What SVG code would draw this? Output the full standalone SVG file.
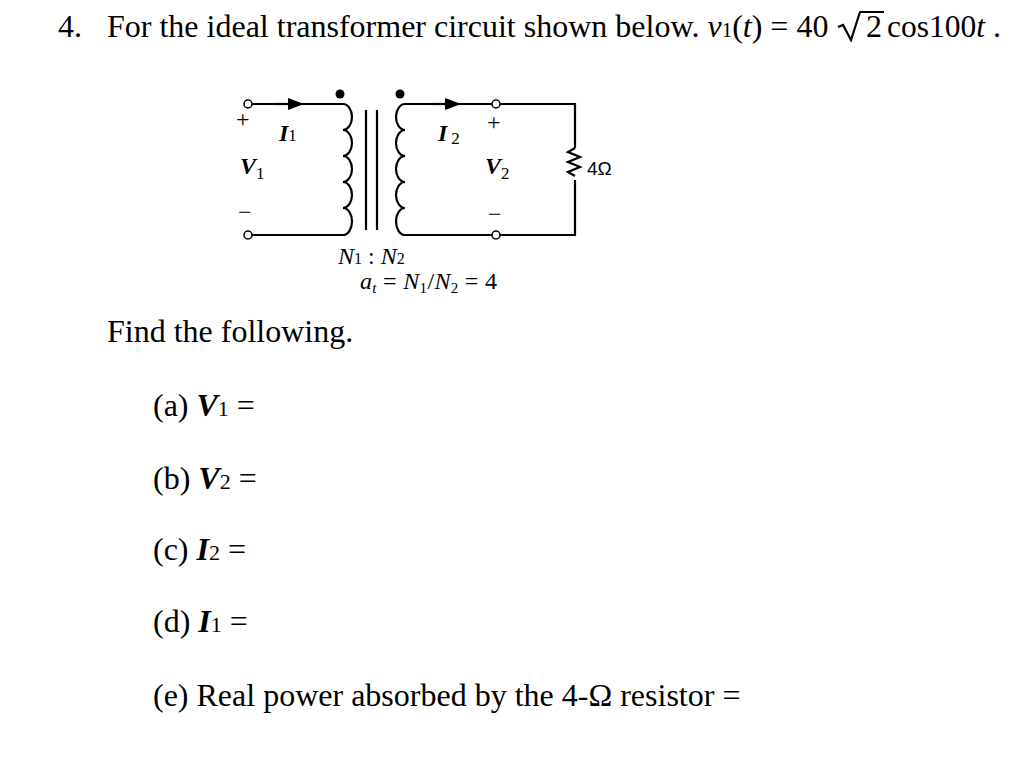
<svg xmlns="http://www.w3.org/2000/svg" width="1027" height="777" viewBox="0 0 1027 777">
<style>
.t{font-family:"Liberation Serif",serif;font-size:32px;fill:#000}
.c{font-family:"Liberation Serif",serif;font-size:24px;fill:#000}
.s{font-family:"Liberation Sans",sans-serif;font-size:19px;fill:#000}
.w{fill:none;stroke:#000;stroke-width:2.2}
.term{fill:#fff;stroke:#000;stroke-width:1.5}
</style>
<defs><marker id="ar" markerWidth="18" markerHeight="14" refX="10" refY="6" orient="auto" markerUnits="userSpaceOnUse"><path d="M0,0 L16,6 L0,12 Z"/></marker></defs>
<rect width="1027" height="777" fill="#fff"/>
<text class="t" x="58" y="37">4.</text>
<text class="t" x="107" y="37">For the ideal transformer circuit shown below.  <tspan font-style="italic">v</tspan><tspan font-size="21">1</tspan>(<tspan font-style="italic">t</tspan>) = 40</text>
<path class="w" d="M838,27 L843,25 L851,40 L860,12 L884,12" stroke-width="1.6"/>
<text class="t" x="866" y="37">2</text>
<text class="t" x="887" y="37" textLength="98" lengthAdjust="spacingAndGlyphs">cos100<tspan font-style="italic">t</tspan></text>
<text class="t" x="993" y="37">.</text>
<g id="connectors">
<path class="w" d="M248,104 H343 M248,235 H343"/>
<path class="w" d="M275,104 H298" marker-end="url(#ar)"/>
<path class="w" d="M405,104 H496 H575 V148 M575,180 V235 H496 H405"/>
<path class="w" d="M432,104 H455" marker-end="url(#ar)"/>
<path class="w" d="M575,148 l-7,4 l12,5 l-12,5 l12,5 l-12,5 l7,4"/>
<path class="w" d="M366,110 V230 M377,110 V230"/>
</g>
<g id="primary">
<path class="w" d="M343,104 a9,13 0 0 1 0,26 a9,13 0 0 1 0,26 a9,13 0 0 1 0,26 a9,13 0 0 1 0,26 a9,13.5 0 0 1 0,27"/>
<circle cx="340" cy="94" r="4.5"/>
</g>
<g id="secondary">
<path class="w" d="M405,104 a9,13 0 0 0 0,26 a9,13 0 0 0 0,26 a9,13 0 0 0 0,26 a9,13 0 0 0 0,26 a9,13.5 0 0 0 0,27"/>
<circle cx="400" cy="94" r="4.5"/>
</g>
<g id="terminals">
<circle class="term" cx="248" cy="104" r="4"/>
<circle class="term" cx="248" cy="235" r="4"/>
<circle class="term" cx="496" cy="104" r="4"/>
<circle class="term" cx="496" cy="235" r="4"/>
</g>
<g id="labels">
<text class="c" x="236" y="127" font-size="20">+</text>
<text class="c" x="238" y="220" font-size="20">−</text>
<text class="c" x="487" y="130" font-size="20">+</text>
<text class="c" x="488" y="222" font-size="20">−</text>
<text class="c" x="279" y="141" font-weight="bold" font-style="italic">I<tspan font-weight="normal" font-style="normal" font-size="17">1</tspan></text>
<text class="c" x="438" y="141" font-weight="bold" font-style="italic">I<tspan font-weight="normal" font-style="normal" font-size="17" dx="4" dy="3">2</tspan></text>
<text class="c" x="240" y="174" font-weight="bold" font-style="italic">V<tspan font-weight="normal" font-style="normal" font-size="17" dy="5">1</tspan></text>
<text class="c" x="485" y="174" font-weight="bold" font-style="italic">V<tspan font-weight="normal" font-style="normal" font-size="17" dy="5">2</tspan></text>
<text class="s" x="587" y="175">4Ω</text>
<text class="c" x="338" y="264" font-size="22"><tspan font-style="italic">N</tspan><tspan font-size="16">1</tspan>  :  <tspan font-style="italic">N</tspan><tspan font-size="16">2</tspan></text>
<text class="c" x="360" y="289" font-size="22" textLength="137"><tspan font-style="italic">a</tspan><tspan font-style="italic" font-size="15" dy="4">t</tspan><tspan dy="-4"> = </tspan><tspan font-style="italic">N</tspan><tspan font-size="15" dy="4">1</tspan><tspan dy="-4">/</tspan><tspan font-style="italic">N</tspan><tspan font-size="15" dy="4">2</tspan><tspan dy="-4"> = 4</tspan></text>
</g>
<text class="t" x="107" y="342">Find the following.</text>
<text class="t" x="153" y="416">(a) <tspan font-weight="bold" font-style="italic">V</tspan><tspan font-size="22">1</tspan> =</text>
<text class="t" x="153" y="489">(b) <tspan font-weight="bold" font-style="italic">V</tspan><tspan font-size="22">2</tspan> =</text>
<text class="t" x="153" y="560">(c) <tspan font-weight="bold" font-style="italic">I</tspan><tspan font-size="22">2</tspan> =</text>
<text class="t" x="153" y="632">(d) <tspan font-weight="bold" font-style="italic">I</tspan><tspan font-size="22">1</tspan> =</text>
<text class="t" x="153" y="706">(e) Real power absorbed by the 4-Ω resistor =</text>
</svg>
